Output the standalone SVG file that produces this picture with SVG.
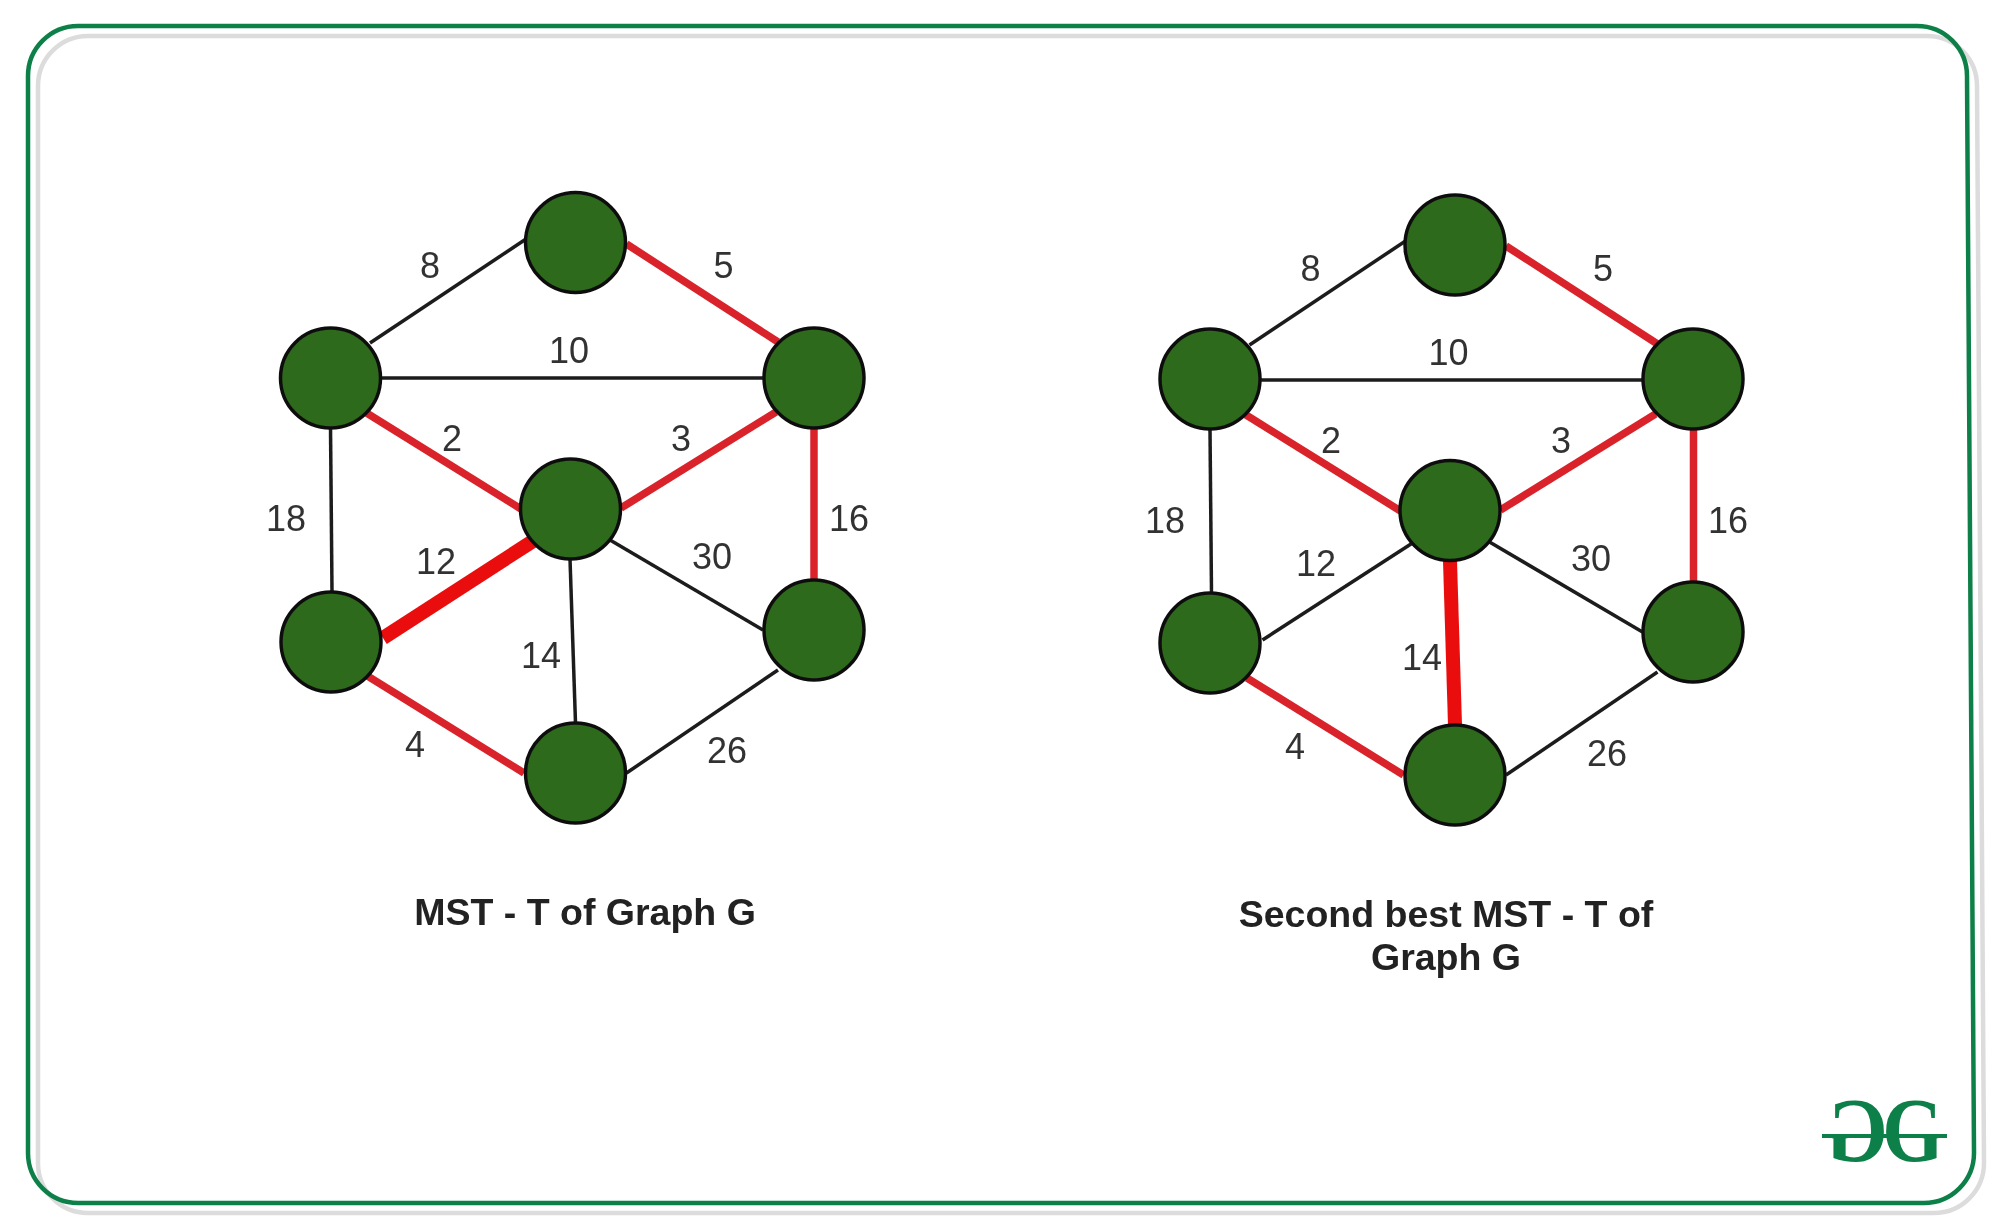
<svg xmlns="http://www.w3.org/2000/svg" width="2001" height="1231" viewBox="0 0 2001 1231">
<style>
.e{stroke:#1c1c1c;stroke-width:3.5;fill:none}
.r{stroke:#d9232b;stroke-width:7.5;fill:none}
.t{stroke:#ea0f10;stroke-width:14;fill:none}
.n{fill:#2f6a1c;stroke:#111;stroke-width:3.5}
.l{font-family:"Liberation Sans",Arial,sans-serif;font-size:36px;fill:#333;text-anchor:middle}
.h{font-family:"Liberation Sans",Arial,sans-serif;font-size:37.5px;font-weight:bold;fill:#222;text-anchor:middle}
.g{font-family:"Liberation Serif","Times New Roman",serif;font-size:92px;font-weight:bold;fill:#0f8048;text-anchor:middle}
.f{fill:none;stroke-width:4.5}
</style>
<defs><filter id="soft" filterUnits="userSpaceOnUse" x="0" y="0" width="2001" height="1231"><feGaussianBlur stdDeviation="0.6"/></filter></defs>
<rect width="2001" height="1231" fill="#fff"/>
<g filter="url(#soft)">
<path class="f" stroke="#dcdcdc" d="M88 36H1927A50 50 0 0 1 1977 86L1984 1163A50 50 0 0 1 1934 1213H88A50 50 0 0 1 38 1163V86A50 50 0 0 1 88 36Z"/>
<path class="f" stroke="#0f8048" d="M78 26H1917A50 50 0 0 1 1967 76L1974 1153A50 50 0 0 1 1924 1203H78A50 50 0 0 1 28 1153V76A50 50 0 0 1 78 26Z"/>
<g id="connectors">
<line class="e" x1="526" y1="239" x2="370" y2="343"/>
<line class="r" x1="626.5" y1="244" x2="778" y2="342"/>
<line class="e" x1="380" y1="378" x2="763" y2="378"/>
<line class="r" x1="365" y1="412" x2="521" y2="509"/>
<line class="r" x1="621" y1="508" x2="776" y2="412"/>
<line class="e" x1="330.5" y1="427" x2="332" y2="591"/>
<line class="r" x1="814" y1="427" x2="814" y2="581"/>
<line class="t" x1="383" y1="638" x2="533" y2="541"/>
<line class="e" x1="610" y1="540" x2="763" y2="630"/>
<line class="e" x1="570" y1="559" x2="575.5" y2="723"/>
<line class="r" x1="367.5" y1="676" x2="524" y2="773"/>
<line class="e" x1="626.5" y1="773" x2="778" y2="670"/>
<line class="e" x1="1405.5" y1="241" x2="1249.5" y2="345"/>
<line class="r" x1="1506" y1="246" x2="1657.5" y2="344"/>
<line class="e" x1="1259.5" y1="380" x2="1642.5" y2="380"/>
<line class="r" x1="1244.5" y1="414" x2="1400.5" y2="511"/>
<line class="r" x1="1500.5" y1="510" x2="1655.5" y2="414"/>
<line class="e" x1="1210" y1="429" x2="1211.5" y2="593"/>
<line class="r" x1="1693.5" y1="429" x2="1693.5" y2="583"/>
<line class="e" x1="1262.5" y1="640" x2="1412.5" y2="543"/>
<line class="e" x1="1489.5" y1="542" x2="1642.5" y2="632"/>
<line class="t" x1="1450" y1="561" x2="1455" y2="725"/>
<line class="r" x1="1247" y1="678" x2="1403.5" y2="775"/>
<line class="e" x1="1506" y1="775" x2="1657.5" y2="672"/>
</g>
<g id="t-a"><circle class="n" cx="575.5" cy="242.5" r="50"/></g>
<g id="t-b"><circle class="n" cx="330.5" cy="378" r="50"/></g>
<g id="t-c"><circle class="n" cx="814" cy="378" r="50"/></g>
<g id="t-d"><circle class="n" cx="570.5" cy="509" r="50"/></g>
<g id="t-e"><circle class="n" cx="331" cy="642" r="50"/></g>
<g id="t-f"><circle class="n" cx="814" cy="630" r="50"/></g>
<g id="t-g"><circle class="n" cx="575.5" cy="773" r="50"/></g>
<g id="s-a"><circle class="n" cx="1455" cy="245" r="50"/></g>
<g id="s-b"><circle class="n" cx="1210" cy="379" r="50"/></g>
<g id="s-c"><circle class="n" cx="1693" cy="379" r="50"/></g>
<g id="s-d"><circle class="n" cx="1450" cy="510.5" r="50"/></g>
<g id="s-e"><circle class="n" cx="1210" cy="643" r="50"/></g>
<g id="s-f"><circle class="n" cx="1693" cy="632" r="50"/></g>
<g id="s-g"><circle class="n" cx="1455" cy="775" r="50"/></g>
<g id="labels-t">
<text class="l" x="430" y="278">8</text><text class="l" x="723.5" y="278">5</text>
<text class="l" x="569" y="363">10</text><text class="l" x="452" y="451">2</text>
<text class="l" x="681" y="451">3</text><text class="l" x="286" y="531">18</text>
<text class="l" x="849" y="531">16</text><text class="l" x="436" y="574">12</text>
<text class="l" x="712" y="569">30</text><text class="l" x="541" y="668">14</text>
<text class="l" x="415" y="757">4</text><text class="l" x="727" y="763">26</text>
</g>
<g id="labels-s">
<text class="l" x="1310.5" y="281">8</text><text class="l" x="1603" y="281">5</text>
<text class="l" x="1448.5" y="365">10</text><text class="l" x="1331" y="453">2</text>
<text class="l" x="1561" y="453">3</text><text class="l" x="1165" y="533">18</text>
<text class="l" x="1728" y="533">16</text><text class="l" x="1316" y="576">12</text>
<text class="l" x="1591" y="571">30</text><text class="l" x="1422" y="670">14</text>
<text class="l" x="1295" y="759">4</text><text class="l" x="1607" y="766">26</text>
</g>
<g id="titles">
<text class="h" x="585" y="925">MST - T of Graph G</text>
<text class="h" x="1446" y="927">Second best MST - T of</text>
<text class="h" x="1446" y="970">Graph G</text>
</g>
<g id="logo">
<text class="g" transform="translate(1857,1161) scale(-0.86,1)">G</text>
<text class="g" transform="translate(1913,1161) scale(0.86,1)">G</text>
<line x1="1822" y1="1136" x2="1947" y2="1136" stroke="#0f8048" stroke-width="4"/>
</g>
</g>
</svg>
